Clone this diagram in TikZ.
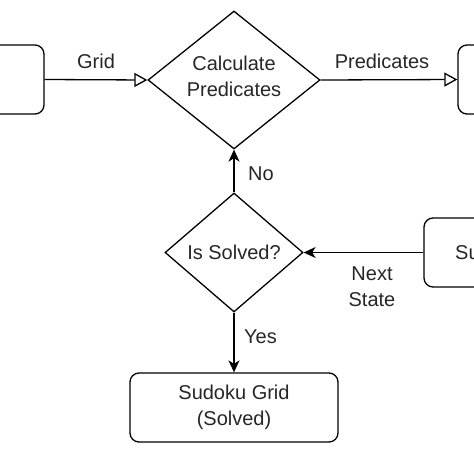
\documentclass[tikz,border=0pt]{standalone}
\usepackage{fontspec}
\setmainfont{Liberation Sans}
\usetikzlibrary{shapes.geometric,arrows.meta}
\begin{document}
\begin{tikzpicture}[x=1pt,y=-1pt,
  every node/.style={font=\fontsize{20}{26}\selectfont, text=black!85},
  box/.style={draw, line width=1.3pt, rounded corners=9pt, minimum width=208pt, minimum height=69pt, inner sep=0pt, align=center},
  decision/.style={draw, diamond, line width=1.3pt, inner sep=0pt, align=center},
  conn/.style={line width=1.3pt},
  openarrow/.style={-{Triangle[open, length=13pt, width=14pt, line width=1.3pt]}},
  fillarrow/.style={-{Stealth[length=12pt, width=11pt, inset=3.5pt]}},
  lbl/.style={inner sep=0pt, align=center}
]
\path[use as bounding box] (0,0) rectangle (474,474);
\clip (0,0) rectangle (474,474);

\node[box] (input) at (-60,79.5) {};
\node[decision, minimum width=172pt, minimum height=138pt] (calc) at (234,80) {};
\node[lbl] (calctext) at (234,76.5) {Calculate\\Predicates};
\node[box] (output) at (562,79.5) {};
\node[decision, minimum width=138pt, minimum height=119pt] (solved) at (234,252.5) {Is Solved?};
\node[box] (next) at (528,252.5) {};
\node[lbl, anchor=west] (nexttext) at (455,252.5) {Su};
\node[box] (done) at (234,407.5) {Sudoku Grid\\(Solved)};

\draw[conn, openarrow] (input.east) -- (calc.west);
\draw[conn, openarrow] (calc.east) -- (output.west);
\draw[conn, fillarrow] (solved.north) -- (calc.south);
\draw[conn, fillarrow] (next.west) -- (solved.east);
\draw[conn, fillarrow] (solved.south) -- (done.north);

\node[lbl] (lgrid) at (96,61) {Grid};
\node[lbl] (lpred) at (382,61) {Predicates};
\node[lbl, anchor=west] (lno) at (248,174) {No};
\node[lbl, anchor=west] (lyes) at (244,337) {Yes};
\node[lbl] (lnext) at (372,287) {Next\\State};
\end{tikzpicture}
\end{document}
